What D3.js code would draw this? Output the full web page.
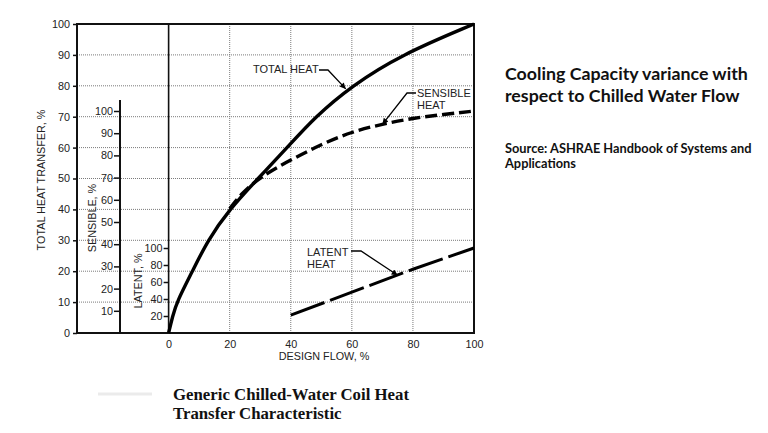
<!DOCTYPE html>
<html lang="en">
<head>
<meta charset="UTF-8">
<title>Generic Chilled-Water Coil Heat Transfer Characteristic</title>
<script src="https://d3js.org/d3.v7.min.js"></script>
<style>
  body { margin: 0; background: #fff; }
  svg { display: block; }
  .axis text { font-family: "Liberation Sans", Arial, sans-serif; font-size: 10.8px; fill: #222; }
  .axis line { stroke: #111; stroke-width: 1.5px; }
  .axis path { display: none; }
  .grid line { stroke: #7a7a7a; stroke-width: 1px; stroke-dasharray: 1,1; }
  .lbl { font-family: "Liberation Sans", Arial, sans-serif; font-size: 10.8px; fill: #222; }
  .note { font-family: "Liberation Sans", Arial, sans-serif; font-size: 11px; fill: #222; }
  .side { font-family: Lato, "Open Sans", sans-serif; font-weight: bold; fill: #111; }
  .caption { font-family: "Liberation Serif", "Times New Roman", serif; font-weight: bold; font-size: 16.8px; fill: #111; }
</style>
</head>
<body>
<div id="chart"></div>
<script>
// values
const totalFlow  = [0, 1.3, 2.65, 7.8, 12.8, 19.9, 29.3, 38.8, 48, 60, 76, 100];
const totalHeat  = [0, 5.4, 10, 20, 30, 40, 50, 60, 70, 80, 90, 100];                  // total heat transfer, %

const sensFlow   = [20, 24, 30, 40, 50, 60, 70, 80, 90, 100];
const sensHeat   = [56, 63, 70.3, 78, 85, 90.7, 94.1, 96.8, 98.4, 100];                // sensible, %

const latFlow    = [40, 80, 100];
const latHeat    = [21, 75, 100];                                                      // latent, %

const totalTicks = d3.range(0, 101, 10);
const sensTicks  = d3.range(10, 101, 10);
const latTicks   = [20, 40, 60, 80, 100];
const flowTicks  = [0, 20, 40, 60, 80, 100];

const W = 768, H = 433;
const pLeft = 77, pRight = 474, pTop = 24, pBottom = 333;

const svg = d3.select("#chart").append("svg")
    .attr("width", W)
    .attr("height", H);

// scales
const x = d3.scaleLinear().domain([-30, 100]).range([pLeft, pRight]);
const yTotal = d3.scaleLinear().domain([0, 100]).range([pBottom, pTop]);
const ySens = d3.scaleLinear().domain([0, 100]).range([pBottom, 111]);
const yLat = d3.scaleLinear().domain([0, 100]).range([pBottom, 248]);

// dotted grid
const grid = svg.append("g").attr("class", "grid");
grid.selectAll(".h").data(totalTicks.filter(d => d > 0 && d < 100)).enter()
    .append("line")
    .attr("x1", pLeft).attr("x2", pRight)
    .attr("y1", d => yTotal(d)).attr("y2", d => yTotal(d));
grid.selectAll(".v").data(flowTicks.filter(d => d > 0 && d < 100)).enter()
    .append("line")
    .attr("x1", d => x(d)).attr("x2", d => x(d))
    .attr("y1", pTop).attr("y2", pBottom);

// solid line at 0 flow
svg.append("line")
    .attr("x1", x(0)).attr("x2", x(0))
    .attr("y1", pTop).attr("y2", pBottom)
    .attr("stroke", "#111").attr("stroke-width", 1.6);

// frame
svg.append("rect")
    .attr("x", pLeft).attr("y", pTop)
    .attr("width", pRight - pLeft).attr("height", pBottom - pTop)
    .attr("fill", "none").attr("stroke", "#111").attr("stroke-width", 2);

// total heat axis
svg.append("g")
    .attr("class", "axis")
    .attr("transform", `translate(${pLeft},0)`)
    .call(d3.axisLeft(yTotal).tickValues(totalTicks).tickSize(4).tickPadding(3));

// sensible axis
svg.append("line")
    .attr("x1", 120).attr("x2", 120)
    .attr("y1", 100).attr("y2", pBottom)
    .attr("stroke", "#111").attr("stroke-width", 2);
svg.append("g")
    .attr("class", "axis")
    .attr("transform", "translate(120,0)")
    .call(d3.axisLeft(ySens).tickValues(sensTicks).tickSize(6).tickPadding(1));

// latent axis
svg.append("g")
    .attr("class", "axis")
    .attr("transform", `translate(${x(0)},0)`)
    .call(d3.axisLeft(yLat).tickValues(latTicks).tickSize(5).tickPadding(1));

// flow axis
svg.append("g")
    .attr("class", "axis")
    .attr("transform", `translate(0,${pBottom})`)
    .call(d3.axisBottom(x).tickValues(flowTicks).tickSize(0).tickPadding(7));

// axis titles
svg.append("text").attr("class", "lbl")
    .attr("transform", "translate(41,180) rotate(-90)")
    .attr("text-anchor", "middle").attr("dominant-baseline", "central")
    .text("TOTAL HEAT TRANSFER, %");
svg.append("text").attr("class", "lbl")
    .attr("transform", "translate(92,218) rotate(-90)")
    .attr("text-anchor", "middle").attr("dominant-baseline", "central")
    .text("SENSIBLE, %");
svg.append("text").attr("class", "lbl")
    .attr("transform", "translate(138,281) rotate(-90)")
    .attr("text-anchor", "middle").attr("dominant-baseline", "central")
    .text("LATENT, %");
svg.append("text").attr("class", "lbl")
    .attr("x", 324).attr("y", 360)
    .attr("text-anchor", "middle")
    .text("DESIGN FLOW, %");

// curves (b-spline smooths out reading noise)
const totalLine = d3.line().x(d => x(d[0])).y(d => yTotal(d[1])).curve(d3.curveBasis);
const sensLine = d3.line().x(d => x(d[0])).y(d => ySens(d[1])).curve(d3.curveBasis);
const latLine = d3.line().x(d => x(d[0])).y(d => yLat(d[1]));

svg.append("path")
    .datum(d3.zip(totalFlow, totalHeat))
    .attr("d", totalLine)
    .attr("fill", "none").attr("stroke", "#000").attr("stroke-width", 3.4);

svg.append("path")
    .datum(d3.zip(sensFlow, sensHeat))
    .attr("d", sensLine)
    .attr("fill", "none").attr("stroke", "#000").attr("stroke-width", 3.4)
    .attr("stroke-dasharray", "12,5");

svg.append("path")
    .datum(d3.zip(latFlow, latHeat))
    .attr("d", latLine)
    .attr("fill", "none").attr("stroke", "#000").attr("stroke-width", 3)
    .attr("stroke-dasharray", "36,6");

// leader arrows
svg.append("defs").append("marker")
    .attr("id", "arr")
    .attr("viewBox", "0 0 10 10")
    .attr("refX", 10).attr("refY", 5)
    .attr("markerWidth", 8).attr("markerHeight", 6)
    .attr("markerUnits", "userSpaceOnUse")
    .attr("orient", "auto")
    .append("path").attr("d", "M0,0L10,5L0,10Z").attr("fill", "#000");

const notes = [
    { lines: ["TOTAL HEAT"], tx: 253, ty: 73, start: [319, 70], knee: [328, 70], tip: [58, 79], scale: yTotal },
    { lines: ["SENSIBLE", "HEAT"], tx: 417, ty: 97, start: [416, 93], knee: [407, 93], tip: [70, 94], scale: ySens },
    { lines: ["LATENT", "HEAT"], tx: 307, ty: 256, start: [351, 251], knee: [361, 251], tip: [75, 68], scale: yLat }
];

notes.forEach(n => {
    const t = svg.append("text").attr("class", "note").attr("x", n.tx).attr("y", n.ty);
    n.lines.forEach((s, i) => {
        t.append("tspan").attr("x", n.tx).attr("dy", i === 0 ? 0 : 12).text(s);
    });
    const pts = [n.start, n.knee, [x(n.tip[0]), n.scale(n.tip[1])]];
    svg.append("path")
        .attr("d", d3.line()(pts))
        .attr("fill", "none").attr("stroke", "#000").attr("stroke-width", 1.3)
        .attr("marker-end", "url(#arr)");
});

// side text
const side = svg.append("g").attr("class", "side");
side.append("text").attr("x", 505).attr("y", 80).attr("font-size", 17.8).text("Cooling Capacity variance with");
side.append("text").attr("x", 505).attr("y", 102).attr("font-size", 17.8).text("respect to Chilled Water Flow");
side.append("text").attr("x", 505).attr("y", 153).attr("font-size", 12.8).text("Source: ASHRAE Handbook of Systems and");
side.append("text").attr("x", 505).attr("y", 168).attr("font-size", 12.8).text("Applications");

// faint scan smudge left of the caption
svg.append("line")
    .attr("x1", 98).attr("x2", 152).attr("y1", 394).attr("y2", 394)
    .attr("stroke", "#ebebeb").attr("stroke-width", 3);

// caption
svg.append("text").attr("class", "caption").attr("x", 173).attr("y", 400).text("Generic Chilled-Water Coil Heat");
svg.append("text").attr("class", "caption").attr("x", 173).attr("y", 419).text("Transfer Characteristic");
</script>
</body>
</html>
